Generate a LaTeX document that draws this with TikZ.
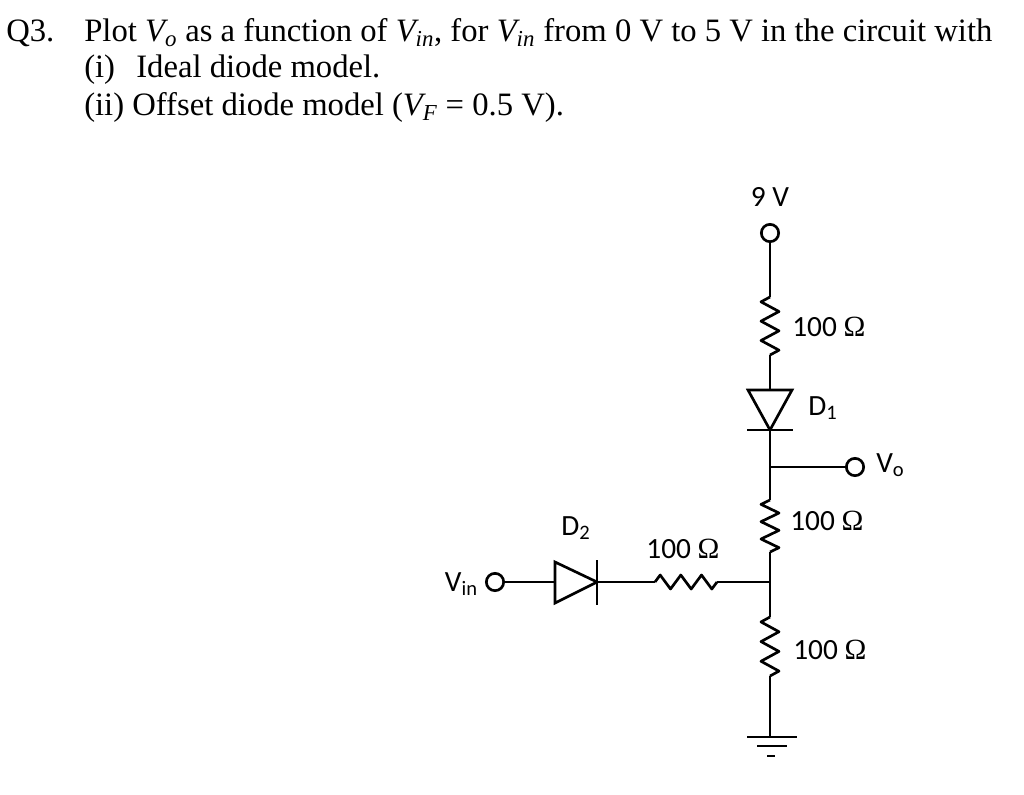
\documentclass[tikz,border=0pt]{standalone}
\usepackage{fontspec}
\usetikzlibrary{calc}
\setmainfont{Liberation Serif}
\newfontfamily\lab{Carlito}
\newcommand{\ohm}{{\rmfamily Ω}}
\begin{document}
\begin{tikzpicture}[x=0.75pt,y=-0.75pt,
  wire/.style={line width=2pt,black},
  term/.style={circle,draw,line width=2pt,minimum size=13pt,inner sep=0pt,fill=white},
  lbl/.style={font=\lab\fontsize{22}{22}\selectfont,inner sep=0pt},
  qtxt/.style={font=\fontsize{24.5}{28}\selectfont,inner sep=0pt,anchor=west}]
\useasboundingbox (0,0) rectangle (1024,794);
% text
\node[qtxt] (q0) at (6,33) {Q3.};
\node[qtxt] (q1) at (84,33) {Plot \textit{V\textsubscript{o}} as a function of \textit{V\textsubscript{in}}, for \textit{V\textsubscript{in}} from 0 V to 5 V in the circuit with};
\node[qtxt] (q2) at (84,70) {(i)\hspace{0.4em} Ideal diode model.};
\node[qtxt] (q3) at (84,107) {(ii) Offset diode model (\textit{V\textsubscript{F}} = 0.5 V).};
% nodes
\node[term] (t9) at (770,233) {};
\node[lbl] (l9) at (770,197) {9 V};
\coordinate (r1t) at (770,297);
\coordinate (r1b) at (770,355);
\coordinate (d1t) at (770,390);
\coordinate (d1b) at (770,430);
\coordinate (jo) at (770,467);
\node[term] (to) at (855,467) {};
\node[lbl,anchor=west] (lo) at (876,465) {V\textsubscript{o}};
\coordinate (r2t) at (770,500);
\coordinate (r2b) at (770,552);
\coordinate (jm) at (770,582);
\coordinate (r3t) at (770,617);
\coordinate (r3b) at (770,676);
\coordinate (gnd) at (770,737);
\node[term] (ti) at (495,582) {};
\node[lbl,anchor=east] (li) at (478,584) {V\textsubscript{in}};
\coordinate (d2l) at (555,582);
\coordinate (d2r) at (597,582);
\coordinate (rhl) at (655,582);
\coordinate (rhr) at (717,582);
% wires
\draw[wire] (t9) -- (r1t);
\draw[wire] (r1b) -- (d1t);
\draw[wire] (d1b) -- (jo) -- (r2t);
\draw[wire] (jo) -- (to);
\draw[wire] (r2b) -- (jm) -- (r3t);
\draw[wire] (r3b) -- (gnd);
\draw[wire] (ti) -- (d2l);
\draw[wire] (d2r) -- (rhl);
\draw[wire] (rhr) -- (jm);
% vertical resistors
\foreach \a/\b in {r1t/r1b,r2t/r2b,r3t/r3b}{
  \draw[wire,line join=round] (\a)
    \foreach \k in {1,...,6}{ -- ($(\a)!{(\k-0.5)/6}!(\b)+({ifthenelse(mod(\k,2)==1,-9,9)},0)$)} -- (\b);
}
% horizontal resistor
\draw[wire,line join=round] (rhl) \foreach \k in {1,...,6}{ -- ($(rhl)!{(\k-0.5)/6}!(rhr)+(0,{ifthenelse(mod(\k,2)==1,-7,7)})$)} -- (rhr);
% D1 (pointing down)
\draw[wire,line join=miter] (748,390) -- (792,390) -- (770,430) -- cycle;
\draw[wire] (747,430) -- (793,430);
\node[lbl,anchor=west] (ld1) at (808,408) {D\textsubscript{1}};
% D2 (pointing right)
\draw[wire] (555,562) -- (555,603) -- (597,582) -- cycle;
\draw[wire] (597,560) -- (597,605);
\node[lbl] (ld2) at (576,528) {D\textsubscript{2}};
% labels
\node[lbl,anchor=west] (lr1) at (792,327) {100 \ohm};
\node[lbl,anchor=west] (lr2) at (790,521) {100 \ohm};
\node[lbl] (lrh) at (683,549) {100 \ohm};
\node[lbl,anchor=west] (lr3) at (793,650) {100 \ohm};
% ground
\draw[wire] (747,737) -- (797,737);
\draw[wire] (757,746) -- (787,746);
\draw[wire] (767,756) -- (775,756);
\end{tikzpicture}
\end{document}
